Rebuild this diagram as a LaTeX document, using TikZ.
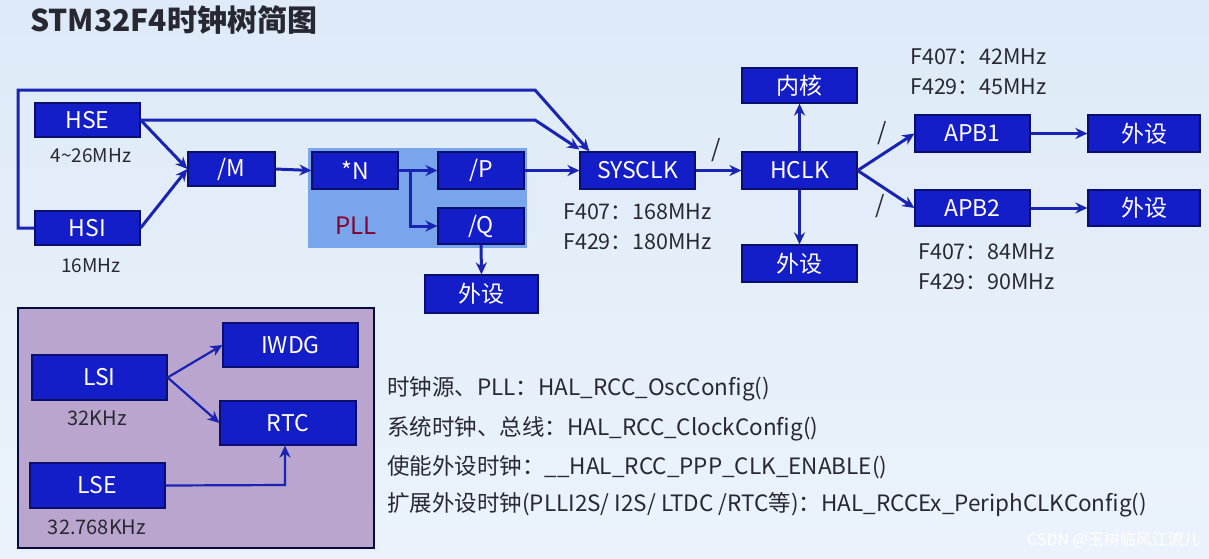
\documentclass[tikz,border=0pt]{standalone}
\usepackage{fontspec}
\setmainfont{Noto Sans CJK SC}
\usetikzlibrary{arrows.meta}
\definecolor{bx}{RGB}{20,30,200}
\definecolor{bxd}{RGB}{10,15,110}
\definecolor{ar}{RGB}{25,35,180}
\definecolor{bg}{RGB}{222,234,248}
\definecolor{pllc}{RGB}{120,165,235}
\definecolor{pur}{RGB}{185,165,205}
\definecolor{txt}{RGB}{40,40,50}
\tikzset{
 blk/.style={draw=bxd,line width=1.2pt,fill=bx,text=white,font=\fontsize{23}{26}\selectfont,inner sep=0pt},
 con/.style={draw=ar,line width=3pt,-{Stealth[length=12pt,width=11pt]}},
 lbl/.style={text=txt,font=\fontsize{21.5}{24}\selectfont,inner sep=0pt},
 cd/.style={text=txt,font=\fontsize{22.5}{25}\selectfont,inner sep=0pt,anchor=west},
}
\newcommand{\bx}[6]{\node[blk,minimum width=#4-#2,minimum height=#5-#3] (#1) at ({(#2+#4)/2},{(#3+#5)/2}) {#6};}
\begin{document}
\begin{tikzpicture}[x=1pt,y=-1pt]
\useasboundingbox (0,0) rectangle (1209,558);
\shade[top color=bg,bottom color=bg!60!white] (0,0) rectangle (1209,558);
\node[anchor=west,text=txt,font=\bfseries\fontsize{30}{32}\selectfont,inner sep=0pt] (title) at (30,20) {STM32F4时钟树简图};
\fill[pllc] (308,148) rectangle (527,248);
\node[text=purple!70!black,font=\fontsize{24}{26}\selectfont,inner sep=0pt] (pll) at (356,226) {PLL};
\bx{hse}{35}{103}{140}{137}{HSE}
\bx{hsi}{35}{211}{140}{245}{HSI}
\bx{m}{188}{152}{275}{186}{/M}
\bx{n}{312}{152}{398}{189}{*N}
\bx{p}{438}{152}{524}{189}{/P}
\bx{q}{438}{208}{524}{244}{/Q}
\bx{wq}{425}{275}{538}{313}{外设}
\bx{sys}{580}{152}{695}{189}{SYSCLK}
\bx{hclk}{742}{152}{857}{189}{HCLK}
\bx{core}{742}{68}{857}{103}{内核}
\bx{wh}{742}{245}{857}{282}{外设}
\bx{apb1}{915}{115}{1030}{152}{APB1}
\bx{apb2}{915}{190}{1030}{226}{APB2}
\bx{w1}{1088}{115}{1200}{152}{外设}
\bx{w2}{1088}{190}{1200}{226}{外设}
\node[lbl,font=\fontsize{19}{22}\selectfont] (f1) at (91,156) {4\textasciitilde26MHz};
\node[lbl,font=\fontsize{19}{22}\selectfont] (f2) at (91,266) {16MHz};
\node[lbl,anchor=west] (s1) at (563,212) {F407：168MHz};
\node[lbl,anchor=west] (s2) at (563,242) {F429：180MHz};
\node[lbl,anchor=west] (a1) at (910,57) {F407：42MHz};
\node[lbl,anchor=west] (a2) at (910,87) {F429：45MHz};
\node[lbl,anchor=west] (b1) at (918,252) {F407：84MHz};
\node[lbl,anchor=west] (b2) at (918,282) {F429：90MHz};
\node[lbl,font=\fontsize{24}{26}\selectfont] (sl1) at (716,150) {/};
\node[lbl,font=\fontsize{24}{26}\selectfont] (sl2) at (882,133) {/};
\node[lbl,font=\fontsize{24}{26}\selectfont] (sl3) at (880,206) {/};
% connectors
\draw[con] (hsi.west) -- (18,228) -- (18,90) -- (535,90) -- ([xshift=10pt]sys.north west);
\draw[con] (hse.east) -- (535,120) -- ([yshift=2pt]sys.north west);
\draw[con] (hse.east) -- (m.west);
\draw[con] (hsi.east) -- (m.west);
\draw[con] (m.east) -- (n.west);
\draw[con] (n.east) -- (p.west);
\draw[con] (410,170) -- (410,226) -- (q.west);
\draw[con] (p.east) -- (sys.west);
\draw[con] (q.south) -- (wq.north);
\draw[con] (sys.east) -- (hclk.west);
\draw[con] (hclk.north) -- (core.south);
\draw[con] (hclk.south) -- (wh.north);
\draw[con] (hclk.east) -- (apb1.west);
\draw[con] (hclk.east) -- (apb2.west);
\draw[con] (apb1.east) -- (w1.west);
\draw[con] (apb2.east) -- (w2.west);
% low speed
\draw[fill=pur,draw=bxd!60!black,line width=1.5pt] (18,308) rectangle (374,548);
\bx{lsi}{32}{355}{167}{400}{LSI}
\bx{iwdg}{223}{323}{358}{367}{IWDG}
\bx{rtc}{220}{401}{356}{445}{RTC}
\bx{lse}{30}{463}{165}{508}{LSE}
\node[lbl,font=\fontsize{20}{22}\selectfont] (f3) at (97,418) {32KHz};
\node[lbl,font=\fontsize{20}{22}\selectfont] (f4) at (97,527) {32.768KHz};
\draw[con,line width=2.2pt] (lsi.east) -- (iwdg.west);
\draw[con,line width=2.2pt] (lsi.east) -- (rtc.west);
\draw[con,line width=2.2pt] (lse.east) -- (285,485) -- (rtc.south -| 285,0);
\node[cd] (c1) at (387,389) {时钟源、PLL：HAL\_RCC\_OscConfig()};
\node[cd] (c2) at (387,429) {系统时钟、总线：HAL\_RCC\_ClockConfig()};
\node[cd] (c3) at (387,467) {使能外设时钟：\_\_HAL\_RCC\_PPP\_CLK\_ENABLE()};
\node[cd] (c4) at (387,505) {扩展外设时钟(PLLI2S/ I2S/ LTDC /RTC等)：HAL\_RCCEx\_PeriphCLKConfig()};
\node[anchor=east,text=white,font=\fontsize{16}{18}\selectfont,inner sep=0pt] (wm) at (1200,540) {CSDN @玉树临风江流儿};
\end{tikzpicture}
\end{document}
